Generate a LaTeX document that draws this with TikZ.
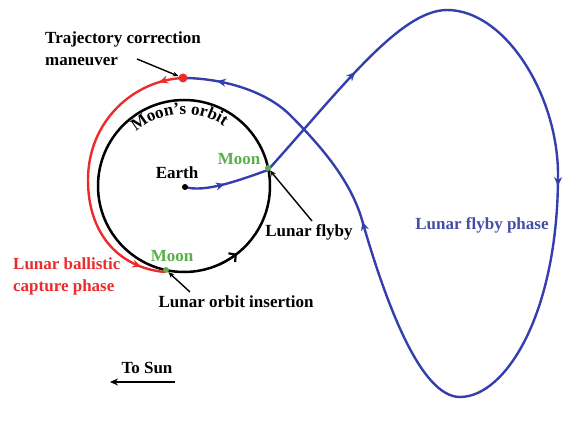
\documentclass[tikz,border=0pt]{standalone}
\usepackage{fontspec}
\setmainfont{Liberation Serif}
\usetikzlibrary{arrows.meta,decorations.markings,decorations.text}
\definecolor{trajblue}{RGB}{52,62,172}
\definecolor{capred}{RGB}{236,44,44}
\definecolor{moongreen}{RGB}{88,176,72}
\definecolor{labelblue}{RGB}{68,78,164}
\tikzset{mytip/.tip={Stealth[length=9pt,width=8pt]}}
\begin{document}
\begin{tikzpicture}[x=1pt,y=-1pt,
  lbl/.style={font=\fontsize{17}{22}\selectfont\bfseries, inner sep=0pt},
  dotnode/.style={circle, fill=#1, inner sep=0pt, minimum size=6pt},
  ptr/.style={line width=1.4pt, -{Stealth[length=6pt,width=5pt]}},
  curve/.style={line width=2.4pt}
]
\useasboundingbox (0,0) rectangle (572,425);

% Moon's orbit
\node[circle, draw=black, line width=2.5pt, minimum size=172pt, inner sep=0pt] (orbit) at (184,186) {};
\draw[line width=2.2pt, black, -{Straight Barb[length=5pt,width=11pt]}]
  plot[domain=66:52, samples=6, smooth] ({184+86*cos(\x)},{186+86*sin(\x)});
\path[decorate, decoration={text along path, text align=center,
   text={|\fontsize{17}{20}\selectfont\bfseries|Moon's orbit}}]
  (184,186) ++(218:72) arc[start angle=218, end angle=314, radius=72];

% red capture arc
\draw[curve, capred,
  postaction={decorate, decoration={markings,
    mark=at position 0.085 with {\arrow{mytip}},
    mark=at position 0.915 with {\arrow{mytip}}}}]
  (183,78) .. controls (135,80) and (88,120) .. (88,180)
           .. controls (88,235) and (120,268) .. (165,272);

% blue trajectory
\draw[curve, trajblue,
  postaction={decorate, decoration={markings,
    mark=at position 0.032 with {\arrow{mytip}},
    mark=at position 0.172 with {\arrow{mytip}},
    mark=at position 0.442 with {\arrow{mytip}},
    mark=at position 0.805 with {\arrow{mytip}},
    mark=at position 0.973 with {\arrow{mytip}}}}]
  (185,187) .. controls (205,193) and (240,180) .. (268,170)
            .. controls (340,90) and (400,10) .. (447,10)
            .. controls (505,10) and (558,95) .. (558,175)
            .. controls (558,315) and (505,397) .. (460,397)
            .. controls (420,397) and (385,300) .. (362,220)
            .. controls (350.5,180) and (320,145) .. (290,115)
            .. controls (265,90) and (220,78) .. (183,78);

% dots
\node[dotnode=black, minimum size=6pt] (earth) at (185,187) {};
\node[dotnode=capred, minimum size=9pt] (tcm) at (183,78) {};
\node[dotnode=moongreen] (moonA) at (268,168) {};
\node[dotnode=moongreen] (moonB) at (166,270) {};

% labels
\node[lbl, anchor=west, align=left] (tcmlabel) at (45,49) {Trajectory correction\\maneuver};
\node[lbl] (earthlabel) at (177,173) {Earth};
\node[lbl, text=moongreen] (moonAlabel) at (239,159) {Moon};
\node[lbl, text=moongreen] (moonBlabel) at (172,256) {Moon};
\node[lbl] (flybylabel) at (309,232) {Lunar flyby};
\node[lbl] (loilabel) at (236,302) {Lunar orbit insertion};
\node[lbl, text=capred, anchor=west, align=left] (caplabel) at (13,276) {Lunar ballistic\\capture phase};
\node[lbl, text=labelblue] (phaselabel) at (482,225) {Lunar flyby phase};
\node[lbl] (sunlabel) at (147,368) {To Sun};

% pointers
\coordinate (tcmtail) at (137,59);
\coordinate (flybytail) at (312,221);
\coordinate (loitail) at (190,292);
\coordinate (sunstart) at (175,382);
\coordinate (sunend) at (110,382);
\draw[ptr] (tcmtail) -- (tcm);
\draw[ptr] (flybytail) -- (moonA);
\draw[ptr] (loitail) -- (moonB);
\draw[line width=1.9pt, -{Stealth[length=8pt,width=7pt]}] (sunstart) -- (sunend);
\end{tikzpicture}
\end{document}
